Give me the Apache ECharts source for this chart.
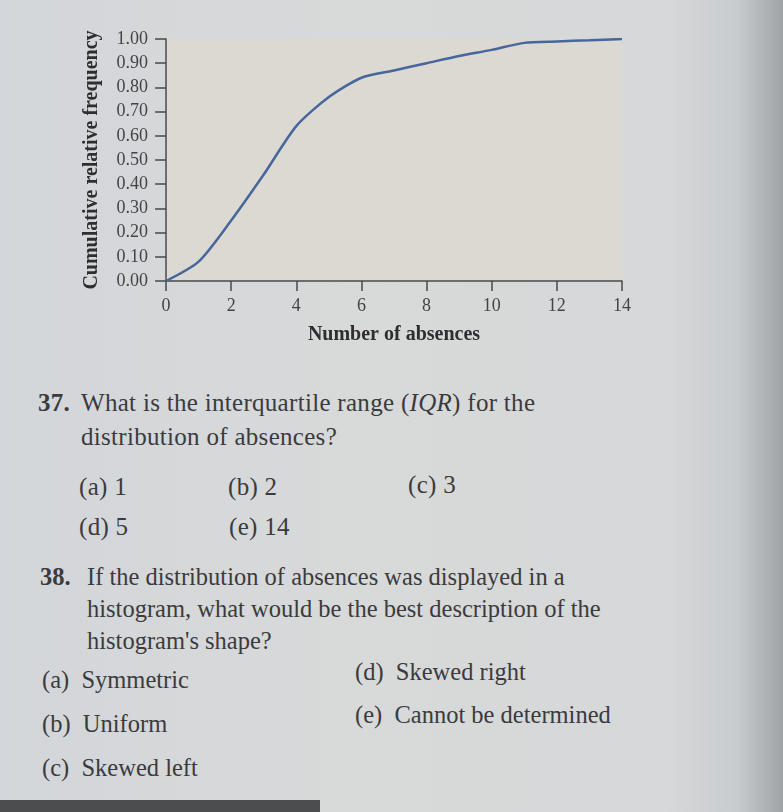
<!DOCTYPE html>
<html>
<head>
<meta charset="utf-8">
<script src="https://cdn.jsdelivr.net/npm/echarts@6/dist/echarts.min.js"></script>
<style>
  html, body { margin:0; padding:0; }
  body { width:783px; height:812px; position:relative; overflow:hidden;
         background: linear-gradient(90deg, #d3d6da 0%, #d8d9d9 45%, #d6d8d9 85%, #c9cccf 94%, #9fa3a6 100%);
         font-family: "Liberation Serif", "DejaVu Serif", serif; color:#3b3b3d; }
  #chart { position:absolute; left:0; top:0; width:783px; height:360px; }
  .t { position:absolute; font-size:25px; letter-spacing:0.3px; white-space:nowrap; line-height:1; }
  .s { font-size:24.5px; letter-spacing:0; }
  .b { font-weight:bold; }
  #bar { position:absolute; left:0; top:800px; width:320px; height:12px; background:#4c4d4f; }
</style>
</head>
<body>
<div id="chart"></div>

<div class="t b" style="left:38px; top:390px;">37.</div>
<div class="t" style="left:81px; top:390px;">What is the interquartile range (<i>IQR</i>) for the</div>
<div class="t" style="left:81px; top:424px;">distribution of absences?</div>
<div class="t" style="left:79px; top:474px;">(a) 1</div>
<div class="t" style="left:228px; top:474px;">(b) 2</div>
<div class="t" style="left:408px; top:472px;">(c) 3</div>
<div class="t" style="left:79px; top:514px;">(d) 5</div>
<div class="t" style="left:229px; top:514px;">(e) 14</div>

<div class="t s b" style="left:40px; top:565px;">38.</div>
<div class="t s" style="left:87px; top:565px;">If the distribution of absences was displayed in a</div>
<div class="t s" style="left:87px; top:597px;">histogram, what would be the best description of the</div>
<div class="t s" style="left:87px; top:629px;">histogram's shape?</div>
<div class="t s" style="left:42px; top:668px;">(a)&nbsp;&nbsp;Symmetric</div>
<div class="t s" style="left:355px; top:660px;">(d)&nbsp;&nbsp;Skewed right</div>
<div class="t s" style="left:42px; top:712px;">(b)&nbsp;&nbsp;Uniform</div>
<div class="t s" style="left:355px; top:703px;">(e)&nbsp;&nbsp;Cannot be determined</div>
<div class="t s" style="left:42px; top:756px;">(c)&nbsp;&nbsp;Skewed left</div>
<div id="bar"></div>

<script>
// Data
const absences = [0, 1, 2, 3, 4, 5, 6, 7, 8, 9, 10, 11, 12, 13, 14];
const cumRelFreq = [0, 0.08, 0.25, 0.44, 0.64, 0.76, 0.84, 0.87, 0.90, 0.93, 0.955, 0.984, 0.99, 0.995, 1.00];
const xTicks = [0, 2, 4, 6, 8, 10, 12, 14];
const yTicks = [0, 0.1, 0.2, 0.3, 0.4, 0.5, 0.6, 0.7, 0.8, 0.9, 1.0];

const chart = echarts.init(document.getElementById('chart'));
const serif = '"Liberation Serif", "DejaVu Serif", serif';
chart.setOption({
  animation: false,
  backgroundColor: 'transparent',
  grid: { left: 166, right: 161, top: 39, height: 242, show: true,
          backgroundColor: '#dcd9d3', borderWidth: 0 },
  xAxis: {
    type: 'value', min: xTicks[0], max: xTicks[xTicks.length - 1], interval: 2,
    name: 'Number of absences', nameLocation: 'middle', nameGap: 44,
    nameTextStyle: { fontFamily: serif, fontWeight: 'bold', fontSize: 20, color: '#2e2e30' },
    axisLine: { lineStyle: { color: '#4a4a4c', width: 1.5 } },
    axisTick: { inside: false, length: 10, lineStyle: { color: '#4a4a4c', width: 1.5 } },
    axisLabel: { margin: 16, fontFamily: serif, fontSize: 18, color: '#444446' },
    splitLine: { show: false }
  },
  yAxis: {
    type: 'value', min: yTicks[0], max: yTicks[yTicks.length - 1], interval: 0.1,
    name: 'Cumulative relative frequency', nameLocation: 'middle', nameGap: 64, nameRotate: 90,
    nameTextStyle: { fontFamily: serif, fontWeight: 'bold', fontSize: 20, color: '#2e2e30' },
    axisLine: { show: true, lineStyle: { color: '#4a4a4c', width: 1.5 } },
    axisTick: { show: true, length: 11, lineStyle: { color: '#4a4a4c', width: 1.5 } },
    axisLabel: { margin: 18, fontFamily: serif, fontSize: 18, color: '#444446',
                 formatter: v => v.toFixed(2) },
    splitLine: { show: false }
  },
  series: [{
    type: 'line',
    data: absences.map((x, i) => [x, cumRelFreq[i]]),
    smooth: 0.25,
    symbol: 'none',
    lineStyle: { color: '#46679c', width: 2.5 }
  }]
});
</script>
</body>
</html>
